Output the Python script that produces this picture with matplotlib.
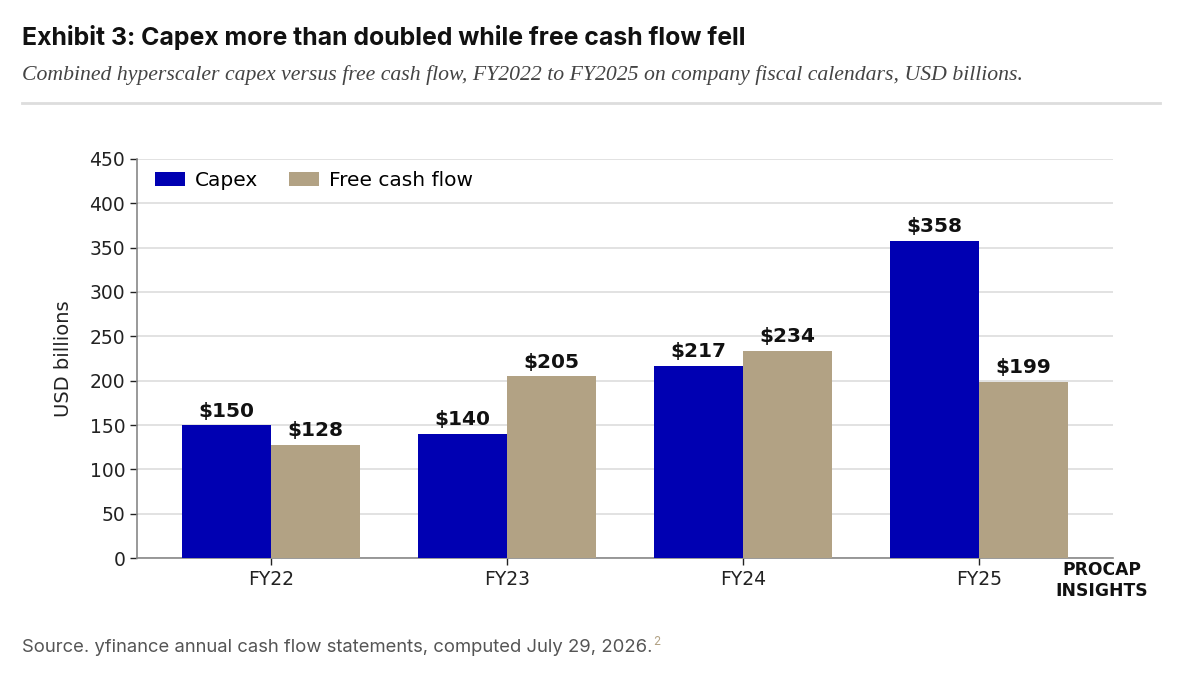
import matplotlib
matplotlib.use("Agg")
import matplotlib.pyplot as plt
import numpy as np

categories = ["FY22", "FY23", "FY24", "FY25"]
capex = [150, 140, 217, 358]
fcf = [128, 205, 234, 199]
yticks = [0, 50, 100, 150, 200, 250, 300, 350, 400, 450]

CAPEX_C = "#0000B2"
FCF_C = "#B2A284"

plt.rcParams["font.family"] = ["DejaVu Sans"]

fig = plt.figure(figsize=(12, 6.74), dpi=100)
ax = fig.add_axes([0.1142, 0.1721, 0.8133, 0.592])

x = np.arange(len(categories))
w = 0.377
b1 = ax.bar(x - w/2, capex, w, color=CAPEX_C, label="Capex", zorder=3)
b2 = ax.bar(x + w/2, fcf, w, color=FCF_C, label="Free cash flow", zorder=3)

for bars, vals in ((b1, capex), (b2, fcf)):
    for r, v in zip(bars, vals):
        ax.text(r.get_x() + r.get_width()/2, v + 5, f"${v}", ha="center", va="bottom",
                fontsize=14.5, fontweight="bold", color="#111111", family="DejaVu Sans")

ax.set_xlim(-0.568, 3.568)
ax.set_ylim(0, 450)
ax.set_yticks(yticks)
ax.set_xticks(x)
ax.set_xticklabels(categories)
ax.tick_params(axis="both", labelsize=13.5, colors="#222222", length=5, width=1)
ax.yaxis.grid(True, color="#dddddd", linewidth=1.2, zorder=0)
ax.set_axisbelow(True)
for s in ("top", "right"):
    ax.spines[s].set_visible(False)
for s in ("left", "bottom"):
    ax.spines[s].set_color("#888888")
    ax.spines[s].set_linewidth(1.2)
ax.set_ylabel("USD billions", fontsize=14, color="#222222", labelpad=12)

leg = ax.legend(loc="upper left", ncol=2, frameon=False, fontsize=14.5,
                bbox_to_anchor=(0.006, 1.0), handlelength=1.5, handleheight=0.7,
                columnspacing=1.5, borderaxespad=0.3, handletextpad=0.5,
                borderpad=0.3)

fig.text(1148/1200, 1 - 561/674, "PROCAP\nINSIGHTS", ha="right", va="top",
         fontsize=12.3, fontweight="bold", color="#111111", family="DejaVu Sans",
         multialignment="center", linespacing=1.2)

fig.text(22/1200, 1 - 37/674, "Exhibit 3: Capex more than doubled while free cash flow fell",
         ha="left", va="center", fontsize=17.9, fontweight="bold", family="Inter", color="#111111")
fig.text(22/1200, 1 - 75/674,
         "Combined hyperscaler capex versus free cash flow, FY2022 to FY2025 on company fiscal calendars, USD billions.",
         ha="left", va="center", fontsize=15.7, style="italic", family="Liberation Serif", color="#444444")
fig.add_artist(plt.Line2D([22/1200, 1160/1200], [1 - 103/674, 1 - 103/674],
                          transform=fig.transFigure, color="#dddddd", linewidth=2))
src = fig.text(22/1200, 1 - 648/674, "Source. yfinance annual cash flow statements, computed July 29, 2026.",
               ha="left", va="center", fontsize=13.3, family="Inter", color="#555555")
fig.canvas.draw()
bb = src.get_window_extent()
fig.text((bb.x1 + 1) / 1200, 1 - 642/674, "2", ha="left", va="center", fontsize=8.5,
         family="Inter", color="#B2A284")

fig.savefig("out.png", dpi=100)
